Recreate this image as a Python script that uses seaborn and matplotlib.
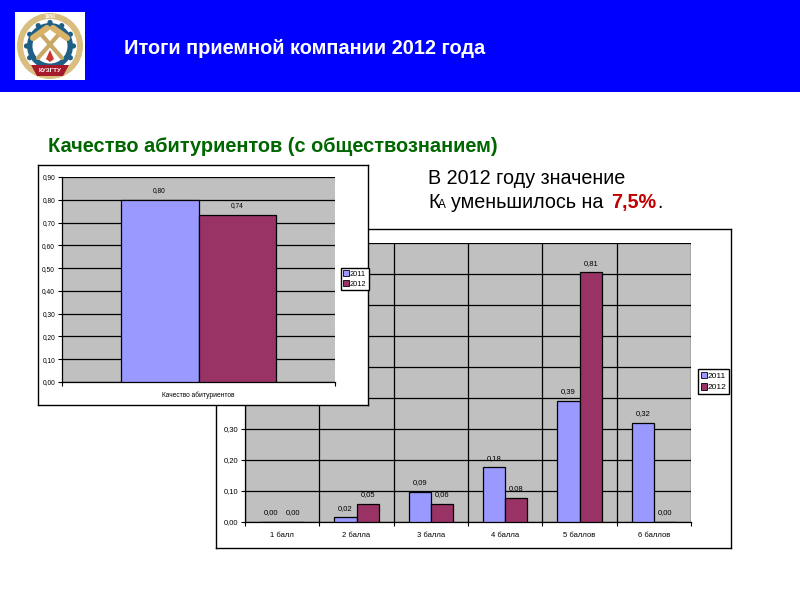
import numpy as np
import pandas as pd
import matplotlib
matplotlib.use("Agg")
import matplotlib.pyplot as plt
from matplotlib.patches import Circle, Polygon, Rectangle
import seaborn as sns

# Data
years = ["2011", "2012"]
quality_label = ["Качество абитуриентов"]
quality_2011 = [0.80]
quality_2012 = [0.735]
quality_text = ["0,80", "0,74"]

grades = ["1 балл", "2 балла", "3 балла", "4 балла", "5 баллов", "6 баллов"]
grades_2011 = [0.0, 0.015, 0.097, 0.177, 0.39, 0.32]
grades_2012 = [0.0, 0.058, 0.058, 0.078, 0.806, 0.0]
grades_text_2011 = ["0,00", "0,02", "0,09", "0,18", "0,39", "0,32"]
grades_text_2012 = ["0,00", "0,05", "0,06", "0,08", "0,81", "0,00"]
y_ticks = [0.0, 0.1, 0.2, 0.3, 0.4, 0.5, 0.6, 0.7, 0.8, 0.9]

W, H = 800, 600
BLUE = "#0000FF"
PAL = {"2011": "#9999FF", "2012": "#993366"}

sns.set_theme(style="white")
plt.rcParams["font.family"] = ["Liberation Sans", "DejaVu Sans"]

fig = plt.figure(figsize=(8, 6), dpi=100, facecolor="white")


def box(x0, y0, x1, y1, z):
    # axes from pixel coords, y counted from the top
    return fig.add_axes([x0 / W, 1 - y1 / H, (x1 - x0) / W, (y1 - y0) / H], zorder=z)


def ptext(x, y, s, va="center", **kw):
    fig.text(x / W, 1 - y / H, s, va=va, zorder=10, **kw)


def frame(x0, y0, x1, y1, z):
    ax = box(x0, y0, x1, y1, z)
    ax.set_xticks([])
    ax.set_yticks([])
    ax.set_facecolor("white")
    for s in ax.spines.values():
        s.set_color("black")
        s.set_linewidth(1.0)


def bar_chart(ax, cats, v2011, v2012, text2011, text2012, width, fs, legend_at, vlines, label_max=1.0):
    df = pd.DataFrame({
        "cat": list(cats) * 2,
        "year": [years[0]] * len(cats) + [years[1]] * len(cats),
        "val": list(v2011) + list(v2012),
    })
    sns.barplot(data=df, x="cat", y="val", hue="year", palette=PAL, width=width, gap=0,
                edgecolor="black", linewidth=0.9, saturation=1, ax=ax, zorder=3)
    ax.set_facecolor("#C0C0C0")
    ax.set_xlim(-0.5, len(cats) - 0.5)
    ax.set_ylim(0, 0.9)
    ax.set_xlabel("")
    ax.set_ylabel("")
    ax.set_yticks(y_ticks)
    # labels behind the overlapping chart stay blank
    ax.set_yticklabels([f"{t:.2f}".replace(".", ",") if t <= label_max else "" for t in y_ticks],
                       fontsize=fs, color="black")
    ax.grid(axis="y", color="black", lw=0.9, zorder=1)
    ax.set_axisbelow(True)
    bounds = np.arange(-0.5, len(cats))
    ax.set_xticks(bounds, minor=True)
    ax.set_xticks(range(len(cats)))
    ax.set_xticklabels(cats, fontsize=fs, color="black")
    ax.tick_params(axis="x", which="major", length=0, pad=7)
    ax.tick_params(axis="x", which="minor", length=3, width=0.8, color="black", bottom=True)
    ax.tick_params(axis="y", length=3, width=0.8, color="black", left=True, pad=2)
    if vlines:
        ax.grid(axis="x", which="minor", color="black", lw=0.9)
    for name in ["top", "right"]:
        ax.spines[name].set_visible(False)
    for name in ["left", "bottom"]:
        ax.spines[name].set_color("black")
        ax.spines[name].set_linewidth(0.9)
    for cont, labels in zip(ax.containers, [text2011, text2012]):
        ax.bar_label(cont, labels=labels, fontsize=fs, color="black", padding=4)
    ax.get_legend().remove()
    handles = [Rectangle((0, 0), 1, 1, fc=PAL[y], ec="black", lw=0.6) for y in years]
    ax.legend(handles, years, loc="upper left", bbox_to_anchor=legend_at,
              bbox_transform=fig.transFigure, fontsize=fs + 0.5, frameon=True, fancybox=False,
              framealpha=1, facecolor="white", edgecolor="black", borderpad=0.3,
              labelspacing=0.35, handlelength=0.8, handleheight=0.9, handletextpad=0.1,
              borderaxespad=0, labelcolor="black")


# Header band
head = box(0, 0, W, 92, 1)
head.set_facecolor(BLUE)
head.set_xticks([])
head.set_yticks([])
for s in head.spines.values():
    s.set_visible(False)

# Logo
logo = box(15, 12, 85, 80, 2)
logo.set_xlim(0, 70)
logo.set_ylim(68, 0)
logo.set_facecolor("white")
logo.set_xticks([])
logo.set_yticks([])
for s in logo.spines.values():
    s.set_visible(False)
logo.add_patch(Circle((35, 34), 33, fc="#D9BE7F", ec="none"))
logo.add_patch(Circle((35, 34), 27, fc="white", ec="none"))
for a in np.arange(0, 360, 30):
    r = np.deg2rad(a)
    logo.add_patch(Circle((35 + 23.5 * np.cos(r), 34 + 23.5 * np.sin(r)), 2.6, fc="#1F5F85", ec="none"))
logo.add_patch(Circle((35, 34), 23, fc="#1F5F85", ec="none"))
logo.add_patch(Circle((35, 34), 17.5, fc="white", ec="none"))
logo.plot([25, 47], [21, 46], color="#C9A765", lw=3, solid_capstyle="round")
logo.plot([45, 23], [21, 46], color="#C9A765", lw=3, solid_capstyle="round")
logo.plot([18, 32], [26, 16], color="#D9B36A", lw=4.5, solid_capstyle="round")
logo.plot([52, 38], [26, 16], color="#D9B36A", lw=4.5, solid_capstyle="round")
logo.add_patch(Polygon([[35, 38], [39, 47], [35, 50], [31, 47]], fc="#C8392B", ec="none"))
logo.add_patch(Polygon([[16, 53], [54, 53], [48, 64], [22, 64]], fc="#A5192B", ec="none"))
logo.text(35, 58.5, "КУЗГТУ", fontsize=4.5, color="white", weight="bold", ha="center", va="center")
logo.text(35, 4.5, "1950", fontsize=3.5, color="white", weight="bold", ha="center", va="center")

# Headings
ptext(124, 48, "Итоги приемной компании 2012 года", fontsize=14.4, weight="bold", color="white")
ptext(48, 146, "Качество абитуриентов (с обществознанием)", fontsize=14.4, weight="bold", color="#006600")
ptext(428, 184, "В 2012 году значение", va="baseline", fontsize=14.2, color="black")
ptext(428, 208, "К", va="baseline", fontsize=14.2, color="black")
ptext(438, 208, "А", va="baseline", fontsize=8.5, color="black")
ptext(451, 208, "уменьшилось на", va="baseline", fontsize=14.2, color="black")
ptext(611, 208, "7,5%", va="baseline", fontsize=14.2, weight="bold", color="#C00000")
ptext(657, 208, ".", va="baseline", fontsize=14.2, color="black")

# Chart by grades
frame(216, 229, 731, 548, 3)
ax2 = box(245, 243, 691, 522, 4)
bar_chart(ax2, grades, grades_2011, grades_2012, grades_text_2011, grades_text_2012,
          0.6, 5.5, (698 / W, 1 - 369 / H), True, label_max=0.3)

# Quality chart drawn over it
frame(38, 165, 368, 405, 5)
ax1 = box(62, 177, 335, 382, 6)
bar_chart(ax1, quality_label, quality_2011, quality_2012, [quality_text[0]], [quality_text[1]],
          0.57, 4.8, (341 / W, 1 - 268 / H), False)

fig.savefig("out.png", dpi=100)
